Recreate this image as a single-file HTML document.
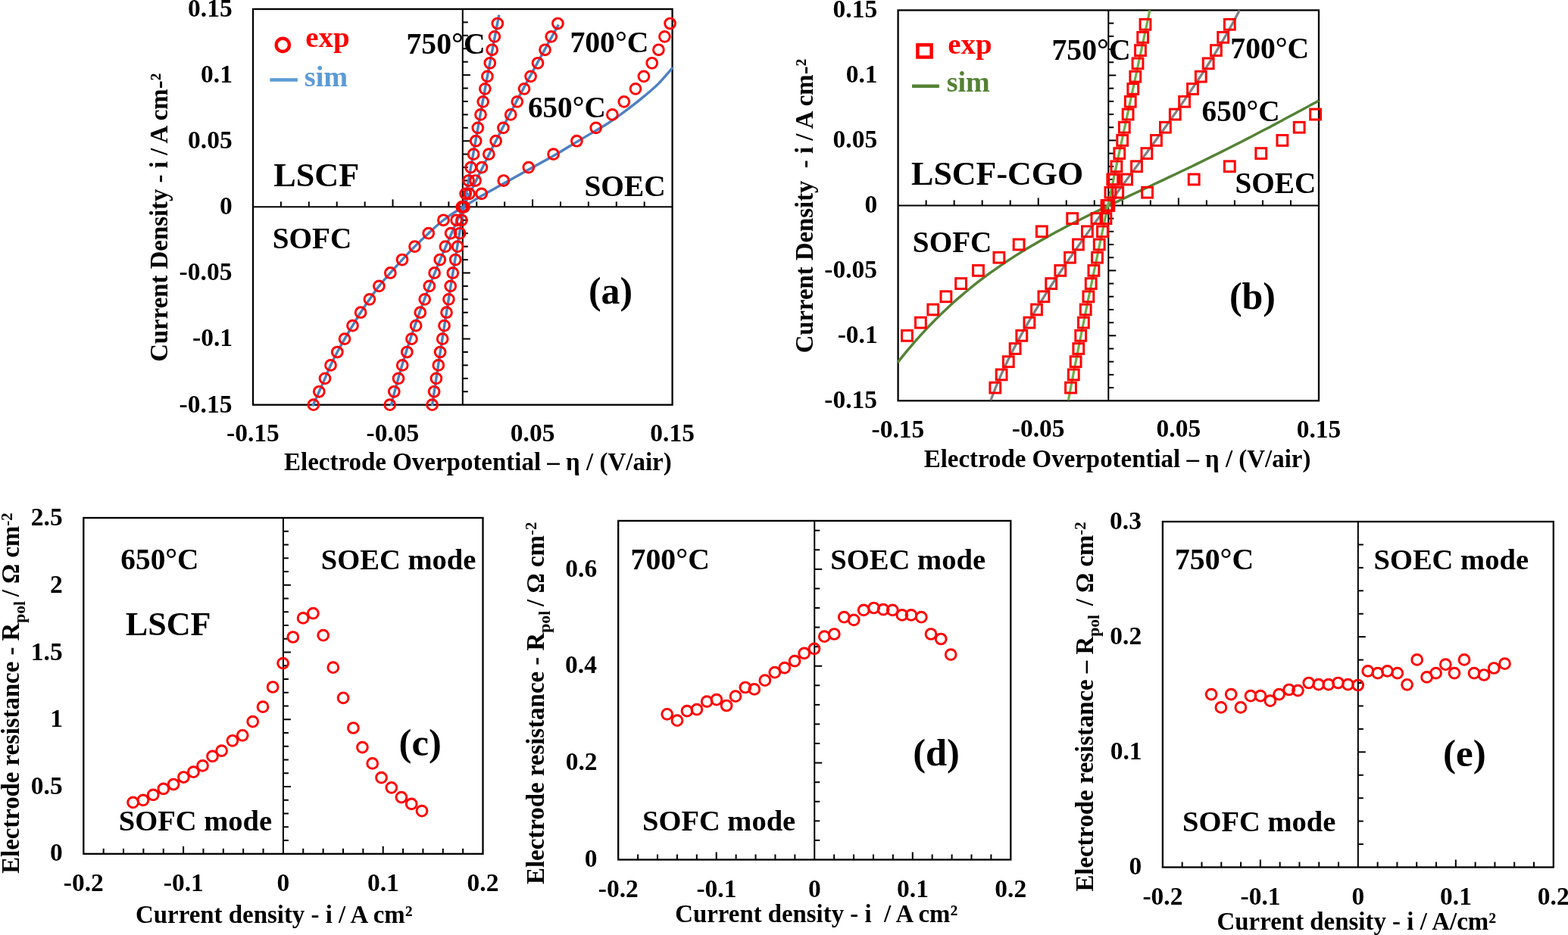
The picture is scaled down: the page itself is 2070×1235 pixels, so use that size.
<!DOCTYPE html>
<html><head><meta charset="utf-8"><title>Electrode polarization curves</title>
<style>html,body{margin:0;padding:0;background:#fff;} svg{display:block;} text{font-family:'Liberation Serif','Times New Roman',serif;font-weight:bold;}</style>
</head><body>
<svg width="2070" height="1235" viewBox="0 0 2070 1235">
<rect width="2070" height="1235" fill="#fff"/>
<rect x="334" y="12" width="553.6" height="522.7" fill="none" stroke="#000" stroke-width="2.3"/>
<line x1="334" y1="273.35" x2="887.6" y2="273.35" stroke="#000" stroke-width="2.0"/>
<line x1="610.8" y1="12" x2="610.8" y2="534.7" stroke="#000" stroke-width="2.0"/>
<line x1="370.91" y1="273.35" x2="370.91" y2="266.35" stroke="#000" stroke-width="2.0"/>
<line x1="407.81" y1="273.35" x2="407.81" y2="266.35" stroke="#000" stroke-width="2.0"/>
<line x1="444.72" y1="273.35" x2="444.72" y2="266.35" stroke="#000" stroke-width="2.0"/>
<line x1="481.63" y1="273.35" x2="481.63" y2="266.35" stroke="#000" stroke-width="2.0"/>
<line x1="518.53" y1="273.35" x2="518.53" y2="263.35" stroke="#000" stroke-width="2.0"/>
<line x1="555.44" y1="273.35" x2="555.44" y2="266.35" stroke="#000" stroke-width="2.0"/>
<line x1="592.35" y1="273.35" x2="592.35" y2="266.35" stroke="#000" stroke-width="2.0"/>
<line x1="629.25" y1="273.35" x2="629.25" y2="266.35" stroke="#000" stroke-width="2.0"/>
<line x1="666.16" y1="273.35" x2="666.16" y2="266.35" stroke="#000" stroke-width="2.0"/>
<line x1="703.07" y1="273.35" x2="703.07" y2="263.35" stroke="#000" stroke-width="2.0"/>
<line x1="739.97" y1="273.35" x2="739.97" y2="266.35" stroke="#000" stroke-width="2.0"/>
<line x1="776.88" y1="273.35" x2="776.88" y2="266.35" stroke="#000" stroke-width="2.0"/>
<line x1="813.79" y1="273.35" x2="813.79" y2="266.35" stroke="#000" stroke-width="2.0"/>
<line x1="850.69" y1="273.35" x2="850.69" y2="266.35" stroke="#000" stroke-width="2.0"/>
<line x1="610.8" y1="517.28" x2="617.8" y2="517.28" stroke="#000" stroke-width="2.0"/>
<line x1="610.8" y1="499.85" x2="617.8" y2="499.85" stroke="#000" stroke-width="2.0"/>
<line x1="610.8" y1="482.43" x2="617.8" y2="482.43" stroke="#000" stroke-width="2.0"/>
<line x1="610.8" y1="465.01" x2="617.8" y2="465.01" stroke="#000" stroke-width="2.0"/>
<line x1="610.8" y1="447.58" x2="620.8" y2="447.58" stroke="#000" stroke-width="2.0"/>
<line x1="610.8" y1="430.16" x2="617.8" y2="430.16" stroke="#000" stroke-width="2.0"/>
<line x1="610.8" y1="412.74" x2="617.8" y2="412.74" stroke="#000" stroke-width="2.0"/>
<line x1="610.8" y1="395.31" x2="617.8" y2="395.31" stroke="#000" stroke-width="2.0"/>
<line x1="610.8" y1="377.89" x2="617.8" y2="377.89" stroke="#000" stroke-width="2.0"/>
<line x1="610.8" y1="360.47" x2="620.8" y2="360.47" stroke="#000" stroke-width="2.0"/>
<line x1="610.8" y1="343.04" x2="617.8" y2="343.04" stroke="#000" stroke-width="2.0"/>
<line x1="610.8" y1="325.62" x2="617.8" y2="325.62" stroke="#000" stroke-width="2.0"/>
<line x1="610.8" y1="308.2" x2="617.8" y2="308.2" stroke="#000" stroke-width="2.0"/>
<line x1="610.8" y1="290.77" x2="617.8" y2="290.77" stroke="#000" stroke-width="2.0"/>
<line x1="610.8" y1="255.93" x2="617.8" y2="255.93" stroke="#000" stroke-width="2.0"/>
<line x1="610.8" y1="238.5" x2="617.8" y2="238.5" stroke="#000" stroke-width="2.0"/>
<line x1="610.8" y1="221.08" x2="617.8" y2="221.08" stroke="#000" stroke-width="2.0"/>
<line x1="610.8" y1="203.66" x2="617.8" y2="203.66" stroke="#000" stroke-width="2.0"/>
<line x1="610.8" y1="186.23" x2="620.8" y2="186.23" stroke="#000" stroke-width="2.0"/>
<line x1="610.8" y1="168.81" x2="617.8" y2="168.81" stroke="#000" stroke-width="2.0"/>
<line x1="610.8" y1="151.39" x2="617.8" y2="151.39" stroke="#000" stroke-width="2.0"/>
<line x1="610.8" y1="133.96" x2="617.8" y2="133.96" stroke="#000" stroke-width="2.0"/>
<line x1="610.8" y1="116.54" x2="617.8" y2="116.54" stroke="#000" stroke-width="2.0"/>
<line x1="610.8" y1="99.12" x2="620.8" y2="99.12" stroke="#000" stroke-width="2.0"/>
<line x1="610.8" y1="81.69" x2="617.8" y2="81.69" stroke="#000" stroke-width="2.0"/>
<line x1="610.8" y1="64.27" x2="617.8" y2="64.27" stroke="#000" stroke-width="2.0"/>
<line x1="610.8" y1="46.85" x2="617.8" y2="46.85" stroke="#000" stroke-width="2.0"/>
<line x1="610.8" y1="29.42" x2="617.8" y2="29.42" stroke="#000" stroke-width="2.0"/>
<path d="M570.53,535.8 C570.86,533.59 571.83,526.98 572.49,522.56 C573.15,518.15 573.81,513.74 574.47,509.33 C575.13,504.92 575.8,500.5 576.47,496.09 C577.13,491.68 577.8,487.27 578.48,482.86 C579.15,478.44 579.83,474.03 580.51,469.62 C581.19,465.21 581.87,460.8 582.55,456.38 C583.24,451.97 583.93,447.56 584.62,443.15 C585.31,438.74 586,434.32 586.69,429.91 C587.39,425.5 588.09,421.09 588.79,416.68 C589.49,412.26 590.2,407.85 590.9,403.44 C591.61,399.03 592.32,394.62 593.03,390.21 C593.74,385.79 594.46,381.38 595.17,376.97 C595.89,372.56 596.61,368.15 597.33,363.73 C598.06,359.32 598.78,354.91 599.51,350.5 C600.24,346.09 600.97,341.67 601.7,337.26 C602.43,332.85 603.17,328.44 603.91,324.03 C604.65,319.61 605.39,315.2 606.13,310.79 C606.87,306.38 607.62,301.97 608.37,297.55 C609.12,293.14 609.87,288.73 610.62,284.32 C611.38,279.91 612.13,275.49 612.89,271.08 C613.65,266.67 614.41,262.26 615.18,257.85 C615.94,253.43 616.71,249.02 617.48,244.61 C618.25,240.2 619.02,235.79 619.79,231.37 C620.57,226.96 621.34,222.55 622.12,218.14 C622.9,213.73 623.68,209.31 624.47,204.9 C625.25,200.49 626.04,196.08 626.82,191.67 C627.61,187.25 628.41,182.84 629.2,178.43 C629.99,174.02 630.79,169.61 631.59,165.19 C632.39,160.78 633.19,156.37 633.99,151.96 C634.79,147.55 635.6,143.14 636.41,138.72 C637.22,134.31 638.03,129.9 638.84,125.49 C639.65,121.08 640.47,116.66 641.29,112.25 C642.1,107.84 642.92,103.43 643.75,99.02 C644.57,94.6 645.39,90.19 646.22,85.78 C647.05,81.37 647.88,76.96 648.71,72.54 C649.54,68.13 650.37,63.72 651.21,59.31 C652.05,54.9 652.89,50.48 653.73,46.07 C654.57,41.66 655.41,37.25 656.26,32.84 C657.1,28.42 658.38,21.81 658.8,19.6" fill="none" stroke="#4E80C0" stroke-width="3.4" stroke-linecap="butt" stroke-linejoin="round"/>
<path d="M516.32,535.8 C516.85,533.65 518.44,527.2 519.54,522.9 C520.65,518.6 521.78,514.3 522.94,509.99 C524.1,505.69 525.3,501.39 526.52,497.09 C527.74,492.79 528.98,488.49 530.26,484.19 C531.53,479.89 532.84,475.59 534.16,471.29 C535.49,466.99 536.85,462.69 538.23,458.38 C539.61,454.08 541.02,449.78 542.46,445.48 C543.89,441.18 545.35,436.88 546.83,432.58 C548.32,428.28 549.83,423.98 551.36,419.68 C552.89,415.38 554.45,411.08 556.03,406.77 C557.61,402.47 559.22,398.17 560.85,393.87 C562.48,389.57 564.13,385.27 565.8,380.97 C567.47,376.67 569.17,372.37 570.88,368.07 C572.6,363.77 574.34,359.46 576.1,355.16 C577.86,350.86 579.64,346.56 581.44,342.26 C583.24,337.96 585.06,333.66 586.9,329.36 C588.74,325.06 590.61,320.76 592.49,316.46 C594.37,312.16 596.26,307.85 598.18,303.55 C600.1,299.25 602.04,294.95 603.99,290.65 C605.94,286.35 607.91,282.05 609.9,277.75 C611.89,273.45 613.9,269.15 615.92,264.85 C617.94,260.55 619.98,256.24 622.03,251.94 C624.09,247.64 626.16,243.34 628.25,239.04 C630.33,234.74 632.43,230.44 634.55,226.14 C636.66,221.84 638.79,217.54 640.94,213.24 C643.08,208.94 645.24,204.63 647.41,200.33 C649.58,196.03 651.77,191.73 653.96,187.43 C656.16,183.13 658.37,178.83 660.59,174.53 C662.81,170.23 665.05,165.93 667.29,161.63 C669.54,157.32 671.79,153.02 674.06,148.72 C676.33,144.42 678.61,140.12 680.89,135.82 C683.18,131.52 685.48,127.22 687.79,122.92 C690.09,118.62 692.41,114.32 694.74,110.02 C697.06,105.71 699.4,101.41 701.74,97.11 C704.08,92.81 706.43,88.51 708.79,84.21 C711.15,79.91 713.51,75.61 715.89,71.31 C718.26,67.01 720.64,62.71 723.02,58.41 C725.41,54.1 727.8,49.8 730.2,45.5 C732.6,41.2 736.21,34.75 737.41,32.6" fill="none" stroke="#4E80C0" stroke-width="3.4" stroke-linecap="butt" stroke-linejoin="round"/>
<path d="M412.6,536.5 C414.05,533.3 418.57,523.38 421.3,517.28 C424.03,511.17 426.47,505.66 429,499.85 C431.53,494.05 433.78,488.24 436.5,482.43 C439.22,476.62 442.22,470.81 445.3,465.01 C448.38,459.2 451.63,453.39 455,447.58 C458.37,441.78 461.98,435.97 465.5,430.16 C469.02,424.35 472.37,418.54 476.1,412.74 C479.83,406.93 483.85,401.12 487.9,395.31 C491.95,389.51 495.83,383.7 500.4,377.89 C504.97,372.08 510.2,366.27 515.3,360.47 C520.4,354.66 525.63,348.85 531,343.04 C536.37,337.24 541.72,331.43 547.5,325.62 C553.28,319.81 559.38,314 565.7,308.2 C572.02,302.39 577.85,296.57 585.4,290.77 C592.95,284.97 605.27,277.11 611,273.4 C616.73,269.69 615.7,270.93 619.8,268.5 C623.9,266.07 627.97,263.22 635.6,258.8 C643.23,254.38 655.15,247.85 665.6,242 C676.05,236.15 687.35,229.78 698.3,223.7 C709.25,217.62 720.83,211.52 731.3,205.5 C741.77,199.48 751.93,193.08 761.1,187.6 C770.27,182.12 779.82,176.45 786.3,172.6 C792.78,168.75 795.05,167.67 800,164.5 C804.95,161.33 810.53,157.48 816,153.6 C821.47,149.72 826.97,145.7 832.8,141.2 C838.63,136.7 844.93,131.7 851,126.6 C857.07,121.5 863,116.83 869.2,110.6 C875.4,104.37 885.03,92.77 888.2,89.2" fill="none" stroke="#4E80C0" stroke-width="3.4" stroke-linecap="butt" stroke-linejoin="round"/>
<circle cx="585.4" cy="290.77" r="6.9" fill="none" stroke="#FF0000" stroke-width="2.95"/>
<circle cx="565.7" cy="308.2" r="6.9" fill="none" stroke="#FF0000" stroke-width="2.95"/>
<circle cx="547.5" cy="325.62" r="6.9" fill="none" stroke="#FF0000" stroke-width="2.95"/>
<circle cx="531" cy="343.04" r="6.9" fill="none" stroke="#FF0000" stroke-width="2.95"/>
<circle cx="515.3" cy="360.47" r="6.9" fill="none" stroke="#FF0000" stroke-width="2.95"/>
<circle cx="500.4" cy="377.89" r="6.9" fill="none" stroke="#FF0000" stroke-width="2.95"/>
<circle cx="487.9" cy="395.31" r="6.9" fill="none" stroke="#FF0000" stroke-width="2.95"/>
<circle cx="476.1" cy="412.74" r="6.9" fill="none" stroke="#FF0000" stroke-width="2.95"/>
<circle cx="465.5" cy="430.16" r="6.9" fill="none" stroke="#FF0000" stroke-width="2.95"/>
<circle cx="455" cy="447.58" r="6.9" fill="none" stroke="#FF0000" stroke-width="2.95"/>
<circle cx="445.3" cy="465.01" r="6.9" fill="none" stroke="#FF0000" stroke-width="2.95"/>
<circle cx="436.5" cy="482.43" r="6.9" fill="none" stroke="#FF0000" stroke-width="2.95"/>
<circle cx="429" cy="499.85" r="6.9" fill="none" stroke="#FF0000" stroke-width="2.95"/>
<circle cx="421.3" cy="517.28" r="6.9" fill="none" stroke="#FF0000" stroke-width="2.95"/>
<circle cx="413.8" cy="534.7" r="6.9" fill="none" stroke="#FF0000" stroke-width="2.95"/>
<circle cx="609.6" cy="273.35" r="6.9" fill="none" stroke="#FF0000" stroke-width="2.95"/>
<circle cx="635.7" cy="255.93" r="6.9" fill="none" stroke="#FF0000" stroke-width="2.95"/>
<circle cx="664.8" cy="238.5" r="6.9" fill="none" stroke="#FF0000" stroke-width="2.95"/>
<circle cx="697.8" cy="221.08" r="6.9" fill="none" stroke="#FF0000" stroke-width="2.95"/>
<circle cx="730.6" cy="203.66" r="6.9" fill="none" stroke="#FF0000" stroke-width="2.95"/>
<circle cx="761.4" cy="186.23" r="6.9" fill="none" stroke="#FF0000" stroke-width="2.95"/>
<circle cx="786.7" cy="168.81" r="6.9" fill="none" stroke="#FF0000" stroke-width="2.95"/>
<circle cx="808.4" cy="151.39" r="6.9" fill="none" stroke="#FF0000" stroke-width="2.95"/>
<circle cx="823.8" cy="134.36" r="6.9" fill="none" stroke="#FF0000" stroke-width="2.95"/>
<circle cx="839" cy="117.34" r="6.9" fill="none" stroke="#FF0000" stroke-width="2.95"/>
<circle cx="849.9" cy="100.82" r="6.9" fill="none" stroke="#FF0000" stroke-width="2.95"/>
<circle cx="860.7" cy="83.29" r="6.9" fill="none" stroke="#FF0000" stroke-width="2.95"/>
<circle cx="869.4" cy="65.77" r="6.9" fill="none" stroke="#FF0000" stroke-width="2.95"/>
<circle cx="877.4" cy="48.35" r="6.9" fill="none" stroke="#FF0000" stroke-width="2.95"/>
<circle cx="884.6" cy="31.02" r="6.9" fill="none" stroke="#FF0000" stroke-width="2.95"/>
<circle cx="602.6" cy="290.77" r="6.9" fill="none" stroke="#FF0000" stroke-width="2.95"/>
<circle cx="595.1" cy="308.2" r="6.9" fill="none" stroke="#FF0000" stroke-width="2.95"/>
<circle cx="587.9" cy="325.62" r="6.9" fill="none" stroke="#FF0000" stroke-width="2.95"/>
<circle cx="580.8" cy="343.04" r="6.9" fill="none" stroke="#FF0000" stroke-width="2.95"/>
<circle cx="573.6" cy="360.47" r="6.9" fill="none" stroke="#FF0000" stroke-width="2.95"/>
<circle cx="566.8" cy="377.89" r="6.9" fill="none" stroke="#FF0000" stroke-width="2.95"/>
<circle cx="560.7" cy="395.31" r="6.9" fill="none" stroke="#FF0000" stroke-width="2.95"/>
<circle cx="554.8" cy="412.74" r="6.9" fill="none" stroke="#FF0000" stroke-width="2.95"/>
<circle cx="549.1" cy="430.16" r="6.9" fill="none" stroke="#FF0000" stroke-width="2.95"/>
<circle cx="543.4" cy="447.58" r="6.9" fill="none" stroke="#FF0000" stroke-width="2.95"/>
<circle cx="537.3" cy="465.01" r="6.9" fill="none" stroke="#FF0000" stroke-width="2.95"/>
<circle cx="531.2" cy="482.43" r="6.9" fill="none" stroke="#FF0000" stroke-width="2.95"/>
<circle cx="526" cy="499.85" r="6.9" fill="none" stroke="#FF0000" stroke-width="2.95"/>
<circle cx="520.3" cy="517.28" r="6.9" fill="none" stroke="#FF0000" stroke-width="2.95"/>
<circle cx="514.7" cy="534.7" r="6.9" fill="none" stroke="#FF0000" stroke-width="2.95"/>
<circle cx="611.2" cy="273.35" r="6.9" fill="none" stroke="#FF0000" stroke-width="2.95"/>
<circle cx="619.5" cy="255.93" r="6.9" fill="none" stroke="#FF0000" stroke-width="2.95"/>
<circle cx="627.6" cy="238.5" r="6.9" fill="none" stroke="#FF0000" stroke-width="2.95"/>
<circle cx="636" cy="221.08" r="6.9" fill="none" stroke="#FF0000" stroke-width="2.95"/>
<circle cx="645.3" cy="203.66" r="6.9" fill="none" stroke="#FF0000" stroke-width="2.95"/>
<circle cx="654.6" cy="186.23" r="6.9" fill="none" stroke="#FF0000" stroke-width="2.95"/>
<circle cx="664.4" cy="168.81" r="6.9" fill="none" stroke="#FF0000" stroke-width="2.95"/>
<circle cx="674.2" cy="151.39" r="6.9" fill="none" stroke="#FF0000" stroke-width="2.95"/>
<circle cx="682.8" cy="134.36" r="6.9" fill="none" stroke="#FF0000" stroke-width="2.95"/>
<circle cx="692" cy="117.34" r="6.9" fill="none" stroke="#FF0000" stroke-width="2.95"/>
<circle cx="700.6" cy="100.82" r="6.9" fill="none" stroke="#FF0000" stroke-width="2.95"/>
<circle cx="710" cy="83.29" r="6.9" fill="none" stroke="#FF0000" stroke-width="2.95"/>
<circle cx="719.5" cy="65.77" r="6.9" fill="none" stroke="#FF0000" stroke-width="2.95"/>
<circle cx="727.7" cy="48.35" r="6.9" fill="none" stroke="#FF0000" stroke-width="2.95"/>
<circle cx="736.4" cy="31.02" r="6.9" fill="none" stroke="#FF0000" stroke-width="2.95"/>
<circle cx="609.4" cy="290.77" r="6.9" fill="none" stroke="#FF0000" stroke-width="2.95"/>
<circle cx="607.1" cy="308.2" r="6.9" fill="none" stroke="#FF0000" stroke-width="2.95"/>
<circle cx="604.2" cy="325.62" r="6.9" fill="none" stroke="#FF0000" stroke-width="2.95"/>
<circle cx="601.2" cy="343.04" r="6.9" fill="none" stroke="#FF0000" stroke-width="2.95"/>
<circle cx="597.8" cy="360.47" r="6.9" fill="none" stroke="#FF0000" stroke-width="2.95"/>
<circle cx="594.7" cy="377.89" r="6.9" fill="none" stroke="#FF0000" stroke-width="2.95"/>
<circle cx="592.4" cy="395.31" r="6.9" fill="none" stroke="#FF0000" stroke-width="2.95"/>
<circle cx="589.5" cy="412.74" r="6.9" fill="none" stroke="#FF0000" stroke-width="2.95"/>
<circle cx="586.5" cy="430.16" r="6.9" fill="none" stroke="#FF0000" stroke-width="2.95"/>
<circle cx="584.2" cy="447.58" r="6.9" fill="none" stroke="#FF0000" stroke-width="2.95"/>
<circle cx="581.1" cy="465.01" r="6.9" fill="none" stroke="#FF0000" stroke-width="2.95"/>
<circle cx="578.8" cy="482.43" r="6.9" fill="none" stroke="#FF0000" stroke-width="2.95"/>
<circle cx="575.9" cy="499.85" r="6.9" fill="none" stroke="#FF0000" stroke-width="2.95"/>
<circle cx="573.1" cy="517.28" r="6.9" fill="none" stroke="#FF0000" stroke-width="2.95"/>
<circle cx="570.6" cy="534.7" r="6.9" fill="none" stroke="#FF0000" stroke-width="2.95"/>
<circle cx="612.6" cy="273.35" r="6.9" fill="none" stroke="#FF0000" stroke-width="2.95"/>
<circle cx="614.6" cy="255.93" r="6.9" fill="none" stroke="#FF0000" stroke-width="2.95"/>
<circle cx="618.6" cy="238.5" r="6.9" fill="none" stroke="#FF0000" stroke-width="2.95"/>
<circle cx="621.5" cy="221.08" r="6.9" fill="none" stroke="#FF0000" stroke-width="2.95"/>
<circle cx="625.1" cy="203.66" r="6.9" fill="none" stroke="#FF0000" stroke-width="2.95"/>
<circle cx="628.2" cy="186.23" r="6.9" fill="none" stroke="#FF0000" stroke-width="2.95"/>
<circle cx="630.8" cy="168.81" r="6.9" fill="none" stroke="#FF0000" stroke-width="2.95"/>
<circle cx="634.5" cy="151.39" r="6.9" fill="none" stroke="#FF0000" stroke-width="2.95"/>
<circle cx="637.7" cy="134.36" r="6.9" fill="none" stroke="#FF0000" stroke-width="2.95"/>
<circle cx="640.3" cy="117.34" r="6.9" fill="none" stroke="#FF0000" stroke-width="2.95"/>
<circle cx="643.4" cy="100.82" r="6.9" fill="none" stroke="#FF0000" stroke-width="2.95"/>
<circle cx="646.8" cy="83.29" r="6.9" fill="none" stroke="#FF0000" stroke-width="2.95"/>
<circle cx="649.7" cy="65.77" r="6.9" fill="none" stroke="#FF0000" stroke-width="2.95"/>
<circle cx="652.9" cy="48.35" r="6.9" fill="none" stroke="#FF0000" stroke-width="2.95"/>
<circle cx="656.8" cy="31.02" r="6.9" fill="none" stroke="#FF0000" stroke-width="2.95"/>
<circle cx="373.3" cy="59.4" r="8.6" fill="none" stroke="#FF0000" stroke-width="4.4"/>
<line x1="356.4" y1="105.5" x2="392.9" y2="105.5" stroke="#5B9BD5" stroke-width="4.4"/>
<rect x="1185.6" y="13.5" width="555.4" height="515.8" fill="none" stroke="#000" stroke-width="2.3"/>
<line x1="1185.6" y1="271.4" x2="1741" y2="271.4" stroke="#000" stroke-width="2.0"/>
<line x1="1463.3" y1="13.5" x2="1463.3" y2="529.3" stroke="#000" stroke-width="2.0"/>
<line x1="1222.63" y1="271.4" x2="1222.63" y2="264.4" stroke="#000" stroke-width="2.0"/>
<line x1="1259.65" y1="271.4" x2="1259.65" y2="264.4" stroke="#000" stroke-width="2.0"/>
<line x1="1296.68" y1="271.4" x2="1296.68" y2="264.4" stroke="#000" stroke-width="2.0"/>
<line x1="1333.71" y1="271.4" x2="1333.71" y2="264.4" stroke="#000" stroke-width="2.0"/>
<line x1="1370.73" y1="271.4" x2="1370.73" y2="261.4" stroke="#000" stroke-width="2.0"/>
<line x1="1407.76" y1="271.4" x2="1407.76" y2="264.4" stroke="#000" stroke-width="2.0"/>
<line x1="1444.79" y1="271.4" x2="1444.79" y2="264.4" stroke="#000" stroke-width="2.0"/>
<line x1="1481.81" y1="271.4" x2="1481.81" y2="264.4" stroke="#000" stroke-width="2.0"/>
<line x1="1518.84" y1="271.4" x2="1518.84" y2="264.4" stroke="#000" stroke-width="2.0"/>
<line x1="1555.87" y1="271.4" x2="1555.87" y2="261.4" stroke="#000" stroke-width="2.0"/>
<line x1="1592.89" y1="271.4" x2="1592.89" y2="264.4" stroke="#000" stroke-width="2.0"/>
<line x1="1629.92" y1="271.4" x2="1629.92" y2="264.4" stroke="#000" stroke-width="2.0"/>
<line x1="1666.95" y1="271.4" x2="1666.95" y2="264.4" stroke="#000" stroke-width="2.0"/>
<line x1="1703.97" y1="271.4" x2="1703.97" y2="264.4" stroke="#000" stroke-width="2.0"/>
<line x1="1463.3" y1="512.11" x2="1470.3" y2="512.11" stroke="#000" stroke-width="2.0"/>
<line x1="1463.3" y1="494.91" x2="1470.3" y2="494.91" stroke="#000" stroke-width="2.0"/>
<line x1="1463.3" y1="477.72" x2="1470.3" y2="477.72" stroke="#000" stroke-width="2.0"/>
<line x1="1463.3" y1="460.53" x2="1470.3" y2="460.53" stroke="#000" stroke-width="2.0"/>
<line x1="1463.3" y1="443.33" x2="1473.3" y2="443.33" stroke="#000" stroke-width="2.0"/>
<line x1="1463.3" y1="426.14" x2="1470.3" y2="426.14" stroke="#000" stroke-width="2.0"/>
<line x1="1463.3" y1="408.95" x2="1470.3" y2="408.95" stroke="#000" stroke-width="2.0"/>
<line x1="1463.3" y1="391.75" x2="1470.3" y2="391.75" stroke="#000" stroke-width="2.0"/>
<line x1="1463.3" y1="374.56" x2="1470.3" y2="374.56" stroke="#000" stroke-width="2.0"/>
<line x1="1463.3" y1="357.37" x2="1473.3" y2="357.37" stroke="#000" stroke-width="2.0"/>
<line x1="1463.3" y1="340.17" x2="1470.3" y2="340.17" stroke="#000" stroke-width="2.0"/>
<line x1="1463.3" y1="322.98" x2="1470.3" y2="322.98" stroke="#000" stroke-width="2.0"/>
<line x1="1463.3" y1="305.79" x2="1470.3" y2="305.79" stroke="#000" stroke-width="2.0"/>
<line x1="1463.3" y1="288.59" x2="1470.3" y2="288.59" stroke="#000" stroke-width="2.0"/>
<line x1="1463.3" y1="254.21" x2="1470.3" y2="254.21" stroke="#000" stroke-width="2.0"/>
<line x1="1463.3" y1="237.01" x2="1470.3" y2="237.01" stroke="#000" stroke-width="2.0"/>
<line x1="1463.3" y1="219.82" x2="1470.3" y2="219.82" stroke="#000" stroke-width="2.0"/>
<line x1="1463.3" y1="202.63" x2="1470.3" y2="202.63" stroke="#000" stroke-width="2.0"/>
<line x1="1463.3" y1="185.43" x2="1473.3" y2="185.43" stroke="#000" stroke-width="2.0"/>
<line x1="1463.3" y1="168.24" x2="1470.3" y2="168.24" stroke="#000" stroke-width="2.0"/>
<line x1="1463.3" y1="151.05" x2="1470.3" y2="151.05" stroke="#000" stroke-width="2.0"/>
<line x1="1463.3" y1="133.85" x2="1470.3" y2="133.85" stroke="#000" stroke-width="2.0"/>
<line x1="1463.3" y1="116.66" x2="1470.3" y2="116.66" stroke="#000" stroke-width="2.0"/>
<line x1="1463.3" y1="99.47" x2="1473.3" y2="99.47" stroke="#000" stroke-width="2.0"/>
<line x1="1463.3" y1="82.27" x2="1470.3" y2="82.27" stroke="#000" stroke-width="2.0"/>
<line x1="1463.3" y1="65.08" x2="1470.3" y2="65.08" stroke="#000" stroke-width="2.0"/>
<line x1="1463.3" y1="47.89" x2="1470.3" y2="47.89" stroke="#000" stroke-width="2.0"/>
<line x1="1463.3" y1="30.69" x2="1470.3" y2="30.69" stroke="#000" stroke-width="2.0"/>
<path d="M1307.92,528.8 C1308.76,526.6 1311.21,519.99 1312.95,515.59 C1314.7,511.18 1316.53,506.78 1318.42,502.37 C1320.31,497.97 1322.27,493.57 1324.3,489.16 C1326.32,484.76 1328.41,480.35 1330.56,475.95 C1332.72,471.54 1334.93,467.14 1337.2,462.74 C1339.48,458.33 1341.81,453.93 1344.2,449.52 C1346.58,445.12 1349.02,440.71 1351.52,436.31 C1354.01,431.91 1356.55,427.5 1359.14,423.1 C1361.74,418.69 1364.38,414.29 1367.06,409.88 C1369.75,405.48 1372.48,401.08 1375.25,396.67 C1378.02,392.27 1380.83,387.86 1383.68,383.46 C1386.53,379.05 1389.42,374.65 1392.34,370.25 C1395.26,365.84 1398.22,361.44 1401.21,357.03 C1404.2,352.63 1407.22,348.22 1410.26,343.82 C1413.31,339.42 1416.38,335.01 1419.48,330.61 C1422.57,326.2 1425.7,321.8 1428.84,317.39 C1431.98,312.99 1435.14,308.59 1438.32,304.18 C1441.5,299.78 1444.7,295.37 1447.91,290.97 C1451.12,286.56 1454.34,282.16 1457.58,277.76 C1460.81,273.35 1464.06,268.95 1467.31,264.54 C1470.56,260.14 1473.82,255.74 1477.08,251.33 C1480.34,246.93 1483.61,242.52 1486.87,238.12 C1490.14,233.71 1493.41,229.31 1496.67,224.91 C1499.93,220.5 1503.19,216.1 1506.44,211.69 C1509.69,207.29 1512.93,202.88 1516.17,198.48 C1519.4,194.08 1522.63,189.67 1525.83,185.27 C1529.04,180.86 1532.24,176.46 1535.42,172.05 C1538.6,167.65 1541.76,163.25 1544.9,158.84 C1548.04,154.44 1551.16,150.03 1554.26,145.63 C1557.35,141.22 1560.43,136.82 1563.47,132.42 C1566.51,128.01 1569.53,123.61 1572.52,119.2 C1575.5,114.8 1578.46,110.39 1581.38,105.99 C1584.3,101.59 1587.19,97.18 1590.03,92.78 C1592.88,88.37 1595.69,83.97 1598.46,79.56 C1601.23,75.16 1603.96,70.76 1606.64,66.35 C1609.32,61.95 1611.96,57.54 1614.55,53.14 C1617.14,48.73 1619.68,44.33 1622.17,39.93 C1624.66,35.52 1627.1,31.12 1629.48,26.71 C1631.87,22.31 1635.3,15.7 1636.47,13.5" fill="none" stroke="#808080" stroke-width="3.2" stroke-linecap="butt" stroke-linejoin="round"/>
<path d="M1185,478.84 C1186.57,476.88 1191.28,470.91 1194.42,467.08 C1197.56,463.25 1200.71,459.5 1203.85,455.84 C1206.99,452.18 1210.13,448.6 1213.27,445.1 C1216.41,441.6 1219.55,438.19 1222.69,434.84 C1225.84,431.49 1228.98,428.23 1232.12,425.03 C1235.26,421.83 1238.4,418.71 1241.54,415.65 C1244.68,412.59 1247.82,409.61 1250.97,406.68 C1254.11,403.75 1257.25,400.89 1260.39,398.09 C1263.53,395.29 1266.67,392.56 1269.81,389.87 C1272.95,387.19 1276.1,384.57 1279.24,382 C1282.38,379.42 1285.52,376.91 1288.66,374.44 C1291.8,371.97 1294.94,369.56 1298.08,367.19 C1301.23,364.82 1304.37,362.51 1307.51,360.23 C1310.65,357.95 1313.79,355.72 1316.93,353.53 C1320.07,351.34 1323.21,349.2 1326.36,347.08 C1329.5,344.97 1332.64,342.9 1335.78,340.87 C1338.92,338.83 1342.06,336.83 1345.2,334.87 C1348.34,332.9 1351.49,330.97 1354.63,329.06 C1357.77,327.16 1360.91,325.29 1364.05,323.44 C1367.19,321.59 1370.33,319.78 1373.47,317.99 C1376.62,316.19 1379.76,314.43 1382.9,312.68 C1386.04,310.94 1389.18,309.22 1392.32,307.52 C1395.46,305.82 1398.6,304.14 1401.75,302.48 C1404.89,300.82 1408.03,299.18 1411.17,297.55 C1414.31,295.92 1417.45,294.32 1420.59,292.72 C1423.73,291.12 1426.88,289.54 1430.02,287.98 C1433.16,286.41 1436.3,284.85 1439.44,283.31 C1442.58,281.76 1445.72,280.23 1448.86,278.7 C1452.01,277.18 1455.15,275.66 1458.29,274.15 C1461.43,272.64 1464.57,271.14 1467.71,269.65 C1470.85,268.15 1473.99,266.66 1477.14,265.17 C1480.28,263.69 1483.42,262.21 1486.56,260.73 C1489.7,259.25 1492.84,257.77 1495.98,256.3 C1499.12,254.82 1502.27,253.35 1505.41,251.88 C1508.55,250.41 1511.69,248.94 1514.83,247.46 C1517.97,245.99 1521.11,244.52 1524.25,243.04 C1527.4,241.57 1530.54,240.09 1533.68,238.61 C1536.82,237.13 1539.96,235.65 1543.1,234.16 C1546.24,232.68 1549.38,231.19 1552.53,229.69 C1555.67,228.2 1558.81,226.7 1561.95,225.2 C1565.09,223.7 1568.23,222.19 1571.37,220.68 C1574.51,219.16 1577.66,217.65 1580.8,216.12 C1583.94,214.6 1587.08,213.07 1590.22,211.53 C1593.36,209.99 1596.5,208.45 1599.64,206.9 C1602.79,205.35 1605.93,203.79 1609.07,202.23 C1612.21,200.66 1615.35,199.09 1618.49,197.52 C1621.63,195.94 1624.77,194.35 1627.92,192.76 C1631.06,191.17 1634.2,189.57 1637.34,187.97 C1640.48,186.36 1643.62,184.75 1646.76,183.13 C1649.9,181.51 1653.05,179.88 1656.19,178.25 C1659.33,176.62 1662.47,174.98 1665.61,173.33 C1668.75,171.69 1671.89,170.04 1675.03,168.38 C1678.18,166.72 1681.32,165.06 1684.46,163.39 C1687.6,161.72 1690.74,160.04 1693.88,158.36 C1697.02,156.69 1700.16,155 1703.31,153.31 C1706.45,151.63 1709.59,149.93 1712.73,148.24 C1715.87,146.54 1719.01,144.84 1722.15,143.14 C1725.29,141.44 1728.44,139.74 1731.58,138.03 C1734.72,136.33 1739.43,133.77 1741,132.91" fill="none" stroke="#548235" stroke-width="3.4" stroke-linecap="butt" stroke-linejoin="round"/>
<path d="M1410.37,528.8 C1410.79,526.6 1412.04,519.99 1412.87,515.59 C1413.71,511.18 1414.56,506.78 1415.4,502.37 C1416.25,497.97 1417.1,493.57 1417.95,489.16 C1418.81,484.76 1419.67,480.35 1420.53,475.95 C1421.39,471.54 1422.26,467.14 1423.13,462.74 C1423.99,458.33 1424.87,453.93 1425.74,449.52 C1426.62,445.12 1427.5,440.71 1428.38,436.31 C1429.26,431.91 1430.15,427.5 1431.03,423.1 C1431.92,418.69 1432.81,414.29 1433.71,409.88 C1434.6,405.48 1435.5,401.08 1436.4,396.67 C1437.3,392.27 1438.2,387.86 1439.11,383.46 C1440.01,379.05 1440.92,374.65 1441.83,370.25 C1442.74,365.84 1443.65,361.44 1444.57,357.03 C1445.48,352.63 1446.4,348.22 1447.32,343.82 C1448.24,339.42 1449.16,335.01 1450.08,330.61 C1451.01,326.2 1451.93,321.8 1452.86,317.39 C1453.79,312.99 1454.72,308.59 1455.65,304.18 C1456.58,299.78 1457.51,295.37 1458.44,290.97 C1459.38,286.56 1460.31,282.16 1461.25,277.76 C1462.19,273.35 1463.12,268.95 1464.06,264.54 C1465,260.14 1465.94,255.74 1466.89,251.33 C1467.83,246.93 1468.77,242.52 1469.71,238.12 C1470.66,233.71 1471.6,229.31 1472.55,224.91 C1473.49,220.5 1474.44,216.1 1475.39,211.69 C1476.33,207.29 1477.28,202.88 1478.23,198.48 C1479.18,194.08 1480.12,189.67 1481.07,185.27 C1482.02,180.86 1482.97,176.46 1483.92,172.05 C1484.87,167.65 1485.82,163.25 1486.77,158.84 C1487.72,154.44 1488.67,150.03 1489.62,145.63 C1490.57,141.22 1491.52,136.82 1492.47,132.42 C1493.41,128.01 1494.36,123.61 1495.31,119.2 C1496.26,114.8 1497.21,110.39 1498.16,105.99 C1499.1,101.59 1500.05,97.18 1501,92.78 C1501.94,88.37 1502.89,83.97 1503.83,79.56 C1504.78,75.16 1505.72,70.76 1506.66,66.35 C1507.61,61.95 1508.55,57.54 1509.49,53.14 C1510.43,48.73 1511.37,44.33 1512.31,39.93 C1513.25,35.52 1514.18,31.12 1515.12,26.71 C1516.05,22.31 1517.45,15.7 1517.92,13.5" fill="none" stroke="#70AD47" stroke-width="3.2" stroke-linecap="butt" stroke-linejoin="round"/>
<rect x="1408.8" y="281.69" width="13.8" height="13.8" fill="none" stroke="#FF0000" stroke-width="3.0"/>
<rect x="1368.4" y="298.89" width="13.8" height="13.8" fill="none" stroke="#FF0000" stroke-width="3.0"/>
<rect x="1338.2" y="316.08" width="13.8" height="13.8" fill="none" stroke="#FF0000" stroke-width="3.0"/>
<rect x="1312" y="333.27" width="13.8" height="13.8" fill="none" stroke="#FF0000" stroke-width="3.0"/>
<rect x="1284.6" y="350.47" width="13.8" height="13.8" fill="none" stroke="#FF0000" stroke-width="3.0"/>
<rect x="1261.7" y="367.66" width="13.8" height="13.8" fill="none" stroke="#FF0000" stroke-width="3.0"/>
<rect x="1242" y="384.85" width="13.8" height="13.8" fill="none" stroke="#FF0000" stroke-width="3.0"/>
<rect x="1224.9" y="402.05" width="13.8" height="13.8" fill="none" stroke="#FF0000" stroke-width="3.0"/>
<rect x="1208.5" y="419.24" width="13.8" height="13.8" fill="none" stroke="#FF0000" stroke-width="3.0"/>
<rect x="1190.6" y="436.43" width="13.8" height="13.8" fill="none" stroke="#FF0000" stroke-width="3.0"/>
<rect x="1507.7" y="247.31" width="13.8" height="13.8" fill="none" stroke="#FF0000" stroke-width="3.0"/>
<rect x="1569.3" y="230.11" width="13.8" height="13.8" fill="none" stroke="#FF0000" stroke-width="3.0"/>
<rect x="1616.4" y="212.92" width="13.8" height="13.8" fill="none" stroke="#FF0000" stroke-width="3.0"/>
<rect x="1657.9" y="195.73" width="13.8" height="13.8" fill="none" stroke="#FF0000" stroke-width="3.0"/>
<rect x="1686" y="178.53" width="13.8" height="13.8" fill="none" stroke="#FF0000" stroke-width="3.0"/>
<rect x="1708.3" y="161.34" width="13.8" height="13.8" fill="none" stroke="#FF0000" stroke-width="3.0"/>
<rect x="1729.7" y="144.15" width="13.8" height="13.8" fill="none" stroke="#FF0000" stroke-width="3.0"/>
<rect x="1454.1" y="264.5" width="13.8" height="13.8" fill="none" stroke="#FF0000" stroke-width="3.0"/>
<rect x="1461.9" y="230.11" width="13.8" height="13.8" fill="none" stroke="#FF0000" stroke-width="3.0"/>
<rect x="1441" y="281.69" width="13.8" height="13.8" fill="none" stroke="#FF0000" stroke-width="3.0"/>
<rect x="1428.5" y="298.89" width="13.8" height="13.8" fill="none" stroke="#FF0000" stroke-width="3.0"/>
<rect x="1416.5" y="316.08" width="13.8" height="13.8" fill="none" stroke="#FF0000" stroke-width="3.0"/>
<rect x="1405.6" y="333.27" width="13.8" height="13.8" fill="none" stroke="#FF0000" stroke-width="3.0"/>
<rect x="1392.9" y="350.47" width="13.8" height="13.8" fill="none" stroke="#FF0000" stroke-width="3.0"/>
<rect x="1380.8" y="367.66" width="13.8" height="13.8" fill="none" stroke="#FF0000" stroke-width="3.0"/>
<rect x="1371" y="384.85" width="13.8" height="13.8" fill="none" stroke="#FF0000" stroke-width="3.0"/>
<rect x="1361.6" y="402.05" width="13.8" height="13.8" fill="none" stroke="#FF0000" stroke-width="3.0"/>
<rect x="1352" y="419.24" width="13.8" height="13.8" fill="none" stroke="#FF0000" stroke-width="3.0"/>
<rect x="1341.9" y="436.43" width="13.8" height="13.8" fill="none" stroke="#FF0000" stroke-width="3.0"/>
<rect x="1333.2" y="453.63" width="13.8" height="13.8" fill="none" stroke="#FF0000" stroke-width="3.0"/>
<rect x="1324.4" y="470.82" width="13.8" height="13.8" fill="none" stroke="#FF0000" stroke-width="3.0"/>
<rect x="1315.2" y="488.01" width="13.8" height="13.8" fill="none" stroke="#FF0000" stroke-width="3.0"/>
<rect x="1306.9" y="505.21" width="13.8" height="13.8" fill="none" stroke="#FF0000" stroke-width="3.0"/>
<rect x="1455.5" y="264.5" width="13.8" height="13.8" fill="none" stroke="#FF0000" stroke-width="3.0"/>
<rect x="1468.8" y="247.31" width="13.8" height="13.8" fill="none" stroke="#FF0000" stroke-width="3.0"/>
<rect x="1480.7" y="230.11" width="13.8" height="13.8" fill="none" stroke="#FF0000" stroke-width="3.0"/>
<rect x="1493.6" y="212.92" width="13.8" height="13.8" fill="none" stroke="#FF0000" stroke-width="3.0"/>
<rect x="1507" y="195.73" width="13.8" height="13.8" fill="none" stroke="#FF0000" stroke-width="3.0"/>
<rect x="1519.6" y="178.53" width="13.8" height="13.8" fill="none" stroke="#FF0000" stroke-width="3.0"/>
<rect x="1531.5" y="161.34" width="13.8" height="13.8" fill="none" stroke="#FF0000" stroke-width="3.0"/>
<rect x="1544.4" y="144.15" width="13.8" height="13.8" fill="none" stroke="#FF0000" stroke-width="3.0"/>
<rect x="1556.7" y="127.35" width="13.8" height="13.8" fill="none" stroke="#FF0000" stroke-width="3.0"/>
<rect x="1567.6" y="110.56" width="13.8" height="13.8" fill="none" stroke="#FF0000" stroke-width="3.0"/>
<rect x="1578.4" y="94.27" width="13.8" height="13.8" fill="none" stroke="#FF0000" stroke-width="3.0"/>
<rect x="1588.3" y="76.97" width="13.8" height="13.8" fill="none" stroke="#FF0000" stroke-width="3.0"/>
<rect x="1598.5" y="59.68" width="13.8" height="13.8" fill="none" stroke="#FF0000" stroke-width="3.0"/>
<rect x="1607.8" y="42.49" width="13.8" height="13.8" fill="none" stroke="#FF0000" stroke-width="3.0"/>
<rect x="1616.4" y="25.39" width="13.8" height="13.8" fill="none" stroke="#FF0000" stroke-width="3.0"/>
<rect x="1453" y="281.69" width="13.8" height="13.8" fill="none" stroke="#FF0000" stroke-width="3.0"/>
<rect x="1448.6" y="298.89" width="13.8" height="13.8" fill="none" stroke="#FF0000" stroke-width="3.0"/>
<rect x="1444.3" y="316.08" width="13.8" height="13.8" fill="none" stroke="#FF0000" stroke-width="3.0"/>
<rect x="1441.6" y="333.27" width="13.8" height="13.8" fill="none" stroke="#FF0000" stroke-width="3.0"/>
<rect x="1437" y="350.47" width="13.8" height="13.8" fill="none" stroke="#FF0000" stroke-width="3.0"/>
<rect x="1433.3" y="367.66" width="13.8" height="13.8" fill="none" stroke="#FF0000" stroke-width="3.0"/>
<rect x="1430" y="384.85" width="13.8" height="13.8" fill="none" stroke="#FF0000" stroke-width="3.0"/>
<rect x="1426.3" y="402.05" width="13.8" height="13.8" fill="none" stroke="#FF0000" stroke-width="3.0"/>
<rect x="1423.5" y="419.24" width="13.8" height="13.8" fill="none" stroke="#FF0000" stroke-width="3.0"/>
<rect x="1419.8" y="436.43" width="13.8" height="13.8" fill="none" stroke="#FF0000" stroke-width="3.0"/>
<rect x="1416.9" y="453.63" width="13.8" height="13.8" fill="none" stroke="#FF0000" stroke-width="3.0"/>
<rect x="1413.2" y="470.82" width="13.8" height="13.8" fill="none" stroke="#FF0000" stroke-width="3.0"/>
<rect x="1410.4" y="488.01" width="13.8" height="13.8" fill="none" stroke="#FF0000" stroke-width="3.0"/>
<rect x="1406.6" y="505.21" width="13.8" height="13.8" fill="none" stroke="#FF0000" stroke-width="3.0"/>
<rect x="1456.9" y="264.5" width="13.8" height="13.8" fill="none" stroke="#FF0000" stroke-width="3.0"/>
<rect x="1459" y="247.31" width="13.8" height="13.8" fill="none" stroke="#FF0000" stroke-width="3.0"/>
<rect x="1463.8" y="230.11" width="13.8" height="13.8" fill="none" stroke="#FF0000" stroke-width="3.0"/>
<rect x="1467" y="212.92" width="13.8" height="13.8" fill="none" stroke="#FF0000" stroke-width="3.0"/>
<rect x="1470.9" y="195.73" width="13.8" height="13.8" fill="none" stroke="#FF0000" stroke-width="3.0"/>
<rect x="1474.8" y="178.53" width="13.8" height="13.8" fill="none" stroke="#FF0000" stroke-width="3.0"/>
<rect x="1477.4" y="161.34" width="13.8" height="13.8" fill="none" stroke="#FF0000" stroke-width="3.0"/>
<rect x="1482.2" y="144.15" width="13.8" height="13.8" fill="none" stroke="#FF0000" stroke-width="3.0"/>
<rect x="1485.4" y="127.35" width="13.8" height="13.8" fill="none" stroke="#FF0000" stroke-width="3.0"/>
<rect x="1488.9" y="110.56" width="13.8" height="13.8" fill="none" stroke="#FF0000" stroke-width="3.0"/>
<rect x="1491.9" y="94.27" width="13.8" height="13.8" fill="none" stroke="#FF0000" stroke-width="3.0"/>
<rect x="1495.1" y="76.97" width="13.8" height="13.8" fill="none" stroke="#FF0000" stroke-width="3.0"/>
<rect x="1498.6" y="59.68" width="13.8" height="13.8" fill="none" stroke="#FF0000" stroke-width="3.0"/>
<rect x="1501.8" y="42.49" width="13.8" height="13.8" fill="none" stroke="#FF0000" stroke-width="3.0"/>
<rect x="1505.1" y="25.39" width="13.8" height="13.8" fill="none" stroke="#FF0000" stroke-width="3.0"/>
<rect x="1211.4" y="59.3" width="18.2" height="16.2" fill="none" stroke="#FF0000" stroke-width="4.5"/>
<line x1="1204" y1="113.7" x2="1239.9" y2="113.7" stroke="#548235" stroke-width="4.4"/>
<rect x="110.3" y="684" width="527.2" height="443.8" fill="none" stroke="#000" stroke-width="2.3"/>
<line x1="373.9" y1="684" x2="373.9" y2="1127.8" stroke="#000" stroke-width="2.0"/>
<line x1="136.66" y1="1127.8" x2="136.66" y2="1120.8" stroke="#000" stroke-width="2.0"/>
<line x1="163.02" y1="1127.8" x2="163.02" y2="1120.8" stroke="#000" stroke-width="2.0"/>
<line x1="189.38" y1="1127.8" x2="189.38" y2="1120.8" stroke="#000" stroke-width="2.0"/>
<line x1="215.74" y1="1127.8" x2="215.74" y2="1120.8" stroke="#000" stroke-width="2.0"/>
<line x1="242.1" y1="1127.8" x2="242.1" y2="1117.8" stroke="#000" stroke-width="2.0"/>
<line x1="268.46" y1="1127.8" x2="268.46" y2="1120.8" stroke="#000" stroke-width="2.0"/>
<line x1="294.82" y1="1127.8" x2="294.82" y2="1120.8" stroke="#000" stroke-width="2.0"/>
<line x1="321.18" y1="1127.8" x2="321.18" y2="1120.8" stroke="#000" stroke-width="2.0"/>
<line x1="347.54" y1="1127.8" x2="347.54" y2="1120.8" stroke="#000" stroke-width="2.0"/>
<line x1="400.26" y1="1127.8" x2="400.26" y2="1120.8" stroke="#000" stroke-width="2.0"/>
<line x1="426.62" y1="1127.8" x2="426.62" y2="1120.8" stroke="#000" stroke-width="2.0"/>
<line x1="452.98" y1="1127.8" x2="452.98" y2="1120.8" stroke="#000" stroke-width="2.0"/>
<line x1="479.34" y1="1127.8" x2="479.34" y2="1120.8" stroke="#000" stroke-width="2.0"/>
<line x1="505.7" y1="1127.8" x2="505.7" y2="1117.8" stroke="#000" stroke-width="2.0"/>
<line x1="532.06" y1="1127.8" x2="532.06" y2="1120.8" stroke="#000" stroke-width="2.0"/>
<line x1="558.42" y1="1127.8" x2="558.42" y2="1120.8" stroke="#000" stroke-width="2.0"/>
<line x1="584.78" y1="1127.8" x2="584.78" y2="1120.8" stroke="#000" stroke-width="2.0"/>
<line x1="611.14" y1="1127.8" x2="611.14" y2="1120.8" stroke="#000" stroke-width="2.0"/>
<line x1="373.9" y1="1110.05" x2="380.9" y2="1110.05" stroke="#000" stroke-width="2.0"/>
<line x1="373.9" y1="1092.3" x2="380.9" y2="1092.3" stroke="#000" stroke-width="2.0"/>
<line x1="373.9" y1="1074.54" x2="380.9" y2="1074.54" stroke="#000" stroke-width="2.0"/>
<line x1="373.9" y1="1056.79" x2="380.9" y2="1056.79" stroke="#000" stroke-width="2.0"/>
<line x1="373.9" y1="1039.04" x2="383.9" y2="1039.04" stroke="#000" stroke-width="2.0"/>
<line x1="373.9" y1="1021.29" x2="380.9" y2="1021.29" stroke="#000" stroke-width="2.0"/>
<line x1="373.9" y1="1003.54" x2="380.9" y2="1003.54" stroke="#000" stroke-width="2.0"/>
<line x1="373.9" y1="985.78" x2="380.9" y2="985.78" stroke="#000" stroke-width="2.0"/>
<line x1="373.9" y1="968.03" x2="380.9" y2="968.03" stroke="#000" stroke-width="2.0"/>
<line x1="373.9" y1="950.28" x2="383.9" y2="950.28" stroke="#000" stroke-width="2.0"/>
<line x1="373.9" y1="932.53" x2="380.9" y2="932.53" stroke="#000" stroke-width="2.0"/>
<line x1="373.9" y1="914.78" x2="380.9" y2="914.78" stroke="#000" stroke-width="2.0"/>
<line x1="373.9" y1="897.02" x2="380.9" y2="897.02" stroke="#000" stroke-width="2.0"/>
<line x1="373.9" y1="879.27" x2="380.9" y2="879.27" stroke="#000" stroke-width="2.0"/>
<line x1="373.9" y1="861.52" x2="383.9" y2="861.52" stroke="#000" stroke-width="2.0"/>
<line x1="373.9" y1="843.77" x2="380.9" y2="843.77" stroke="#000" stroke-width="2.0"/>
<line x1="373.9" y1="826.02" x2="380.9" y2="826.02" stroke="#000" stroke-width="2.0"/>
<line x1="373.9" y1="808.26" x2="380.9" y2="808.26" stroke="#000" stroke-width="2.0"/>
<line x1="373.9" y1="790.51" x2="380.9" y2="790.51" stroke="#000" stroke-width="2.0"/>
<line x1="373.9" y1="772.76" x2="383.9" y2="772.76" stroke="#000" stroke-width="2.0"/>
<line x1="373.9" y1="755.01" x2="380.9" y2="755.01" stroke="#000" stroke-width="2.0"/>
<line x1="373.9" y1="737.26" x2="380.9" y2="737.26" stroke="#000" stroke-width="2.0"/>
<line x1="373.9" y1="719.5" x2="380.9" y2="719.5" stroke="#000" stroke-width="2.0"/>
<line x1="373.9" y1="701.75" x2="380.9" y2="701.75" stroke="#000" stroke-width="2.0"/>
<line x1="373.9" y1="684" x2="383.9" y2="684" stroke="#000" stroke-width="2.0"/>
<circle cx="175.6" cy="1059.9" r="6.9" fill="none" stroke="#FF0000" stroke-width="2.95"/>
<circle cx="188.9" cy="1056.9" r="6.9" fill="none" stroke="#FF0000" stroke-width="2.95"/>
<circle cx="202.2" cy="1049.8" r="6.9" fill="none" stroke="#FF0000" stroke-width="2.95"/>
<circle cx="215.8" cy="1041.8" r="6.9" fill="none" stroke="#FF0000" stroke-width="2.95"/>
<circle cx="229.1" cy="1036" r="6.9" fill="none" stroke="#FF0000" stroke-width="2.95"/>
<circle cx="242.4" cy="1026.5" r="6.9" fill="none" stroke="#FF0000" stroke-width="2.95"/>
<circle cx="255.4" cy="1019.7" r="6.9" fill="none" stroke="#FF0000" stroke-width="2.95"/>
<circle cx="267.5" cy="1011.4" r="6.9" fill="none" stroke="#FF0000" stroke-width="2.95"/>
<circle cx="280.5" cy="998.9" r="6.9" fill="none" stroke="#FF0000" stroke-width="2.95"/>
<circle cx="292.6" cy="991.6" r="6.9" fill="none" stroke="#FF0000" stroke-width="2.95"/>
<circle cx="306.9" cy="978.3" r="6.9" fill="none" stroke="#FF0000" stroke-width="2.95"/>
<circle cx="320.2" cy="971.3" r="6.9" fill="none" stroke="#FF0000" stroke-width="2.95"/>
<circle cx="333.7" cy="953.2" r="6.9" fill="none" stroke="#FF0000" stroke-width="2.95"/>
<circle cx="347" cy="933.6" r="6.9" fill="none" stroke="#FF0000" stroke-width="2.95"/>
<circle cx="360.1" cy="907.5" r="6.9" fill="none" stroke="#FF0000" stroke-width="2.95"/>
<circle cx="373.6" cy="876.1" r="6.9" fill="none" stroke="#FF0000" stroke-width="2.95"/>
<circle cx="386.8" cy="841.5" r="6.9" fill="none" stroke="#FF0000" stroke-width="2.95"/>
<circle cx="400.1" cy="816.4" r="6.9" fill="none" stroke="#FF0000" stroke-width="2.95"/>
<circle cx="413.4" cy="810.1" r="6.9" fill="none" stroke="#FF0000" stroke-width="2.95"/>
<circle cx="426.7" cy="839.2" r="6.9" fill="none" stroke="#FF0000" stroke-width="2.95"/>
<circle cx="439.8" cy="881.7" r="6.9" fill="none" stroke="#FF0000" stroke-width="2.95"/>
<circle cx="453.1" cy="921.8" r="6.9" fill="none" stroke="#FF0000" stroke-width="2.95"/>
<circle cx="466.4" cy="961.5" r="6.9" fill="none" stroke="#FF0000" stroke-width="2.95"/>
<circle cx="478.4" cy="987.1" r="6.9" fill="none" stroke="#FF0000" stroke-width="2.95"/>
<circle cx="491.7" cy="1008.4" r="6.9" fill="none" stroke="#FF0000" stroke-width="2.95"/>
<circle cx="503.5" cy="1027.2" r="6.9" fill="none" stroke="#FF0000" stroke-width="2.95"/>
<circle cx="516.8" cy="1040.3" r="6.9" fill="none" stroke="#FF0000" stroke-width="2.95"/>
<circle cx="529.9" cy="1053.1" r="6.9" fill="none" stroke="#FF0000" stroke-width="2.95"/>
<circle cx="543.2" cy="1061.9" r="6.9" fill="none" stroke="#FF0000" stroke-width="2.95"/>
<circle cx="557" cy="1071.2" r="6.9" fill="none" stroke="#FF0000" stroke-width="2.95"/>
<rect x="816.2" y="687.9" width="518.1" height="447.6" fill="none" stroke="#000" stroke-width="2.3"/>
<line x1="1075.25" y1="687.9" x2="1075.25" y2="1135.5" stroke="#000" stroke-width="2.0"/>
<line x1="842.11" y1="1135.5" x2="842.11" y2="1128.5" stroke="#000" stroke-width="2.0"/>
<line x1="868.01" y1="1135.5" x2="868.01" y2="1128.5" stroke="#000" stroke-width="2.0"/>
<line x1="893.92" y1="1135.5" x2="893.92" y2="1128.5" stroke="#000" stroke-width="2.0"/>
<line x1="919.82" y1="1135.5" x2="919.82" y2="1128.5" stroke="#000" stroke-width="2.0"/>
<line x1="945.73" y1="1135.5" x2="945.73" y2="1125.5" stroke="#000" stroke-width="2.0"/>
<line x1="971.63" y1="1135.5" x2="971.63" y2="1128.5" stroke="#000" stroke-width="2.0"/>
<line x1="997.54" y1="1135.5" x2="997.54" y2="1128.5" stroke="#000" stroke-width="2.0"/>
<line x1="1023.44" y1="1135.5" x2="1023.44" y2="1128.5" stroke="#000" stroke-width="2.0"/>
<line x1="1049.35" y1="1135.5" x2="1049.35" y2="1128.5" stroke="#000" stroke-width="2.0"/>
<line x1="1101.15" y1="1135.5" x2="1101.15" y2="1128.5" stroke="#000" stroke-width="2.0"/>
<line x1="1127.06" y1="1135.5" x2="1127.06" y2="1128.5" stroke="#000" stroke-width="2.0"/>
<line x1="1152.96" y1="1135.5" x2="1152.96" y2="1128.5" stroke="#000" stroke-width="2.0"/>
<line x1="1178.87" y1="1135.5" x2="1178.87" y2="1128.5" stroke="#000" stroke-width="2.0"/>
<line x1="1204.78" y1="1135.5" x2="1204.78" y2="1125.5" stroke="#000" stroke-width="2.0"/>
<line x1="1230.68" y1="1135.5" x2="1230.68" y2="1128.5" stroke="#000" stroke-width="2.0"/>
<line x1="1256.59" y1="1135.5" x2="1256.59" y2="1128.5" stroke="#000" stroke-width="2.0"/>
<line x1="1282.49" y1="1135.5" x2="1282.49" y2="1128.5" stroke="#000" stroke-width="2.0"/>
<line x1="1308.39" y1="1135.5" x2="1308.39" y2="1128.5" stroke="#000" stroke-width="2.0"/>
<line x1="1075.25" y1="1109.92" x2="1082.25" y2="1109.92" stroke="#000" stroke-width="2.0"/>
<line x1="1075.25" y1="1084.35" x2="1082.25" y2="1084.35" stroke="#000" stroke-width="2.0"/>
<line x1="1075.25" y1="1058.77" x2="1082.25" y2="1058.77" stroke="#000" stroke-width="2.0"/>
<line x1="1075.25" y1="1033.19" x2="1082.25" y2="1033.19" stroke="#000" stroke-width="2.0"/>
<line x1="1075.25" y1="1007.61" x2="1085.25" y2="1007.61" stroke="#000" stroke-width="2.0"/>
<line x1="1075.25" y1="982.04" x2="1082.25" y2="982.04" stroke="#000" stroke-width="2.0"/>
<line x1="1075.25" y1="956.46" x2="1082.25" y2="956.46" stroke="#000" stroke-width="2.0"/>
<line x1="1075.25" y1="930.88" x2="1082.25" y2="930.88" stroke="#000" stroke-width="2.0"/>
<line x1="1075.25" y1="905.31" x2="1082.25" y2="905.31" stroke="#000" stroke-width="2.0"/>
<line x1="1075.25" y1="879.73" x2="1085.25" y2="879.73" stroke="#000" stroke-width="2.0"/>
<line x1="1075.25" y1="854.15" x2="1082.25" y2="854.15" stroke="#000" stroke-width="2.0"/>
<line x1="1075.25" y1="828.57" x2="1082.25" y2="828.57" stroke="#000" stroke-width="2.0"/>
<line x1="1075.25" y1="803" x2="1082.25" y2="803" stroke="#000" stroke-width="2.0"/>
<line x1="1075.25" y1="777.42" x2="1082.25" y2="777.42" stroke="#000" stroke-width="2.0"/>
<line x1="1075.25" y1="751.84" x2="1085.25" y2="751.84" stroke="#000" stroke-width="2.0"/>
<line x1="1075.25" y1="726.27" x2="1082.25" y2="726.27" stroke="#000" stroke-width="2.0"/>
<line x1="1075.25" y1="700.69" x2="1082.25" y2="700.69" stroke="#000" stroke-width="2.0"/>
<circle cx="880.7" cy="943.3" r="6.9" fill="none" stroke="#FF0000" stroke-width="2.95"/>
<circle cx="894" cy="951.7" r="6.9" fill="none" stroke="#FF0000" stroke-width="2.95"/>
<circle cx="907" cy="939.1" r="6.9" fill="none" stroke="#FF0000" stroke-width="2.95"/>
<circle cx="919.9" cy="937.1" r="6.9" fill="none" stroke="#FF0000" stroke-width="2.95"/>
<circle cx="933.2" cy="926.6" r="6.9" fill="none" stroke="#FF0000" stroke-width="2.95"/>
<circle cx="945.9" cy="924.2" r="6.9" fill="none" stroke="#FF0000" stroke-width="2.95"/>
<circle cx="959.1" cy="932" r="6.9" fill="none" stroke="#FF0000" stroke-width="2.95"/>
<circle cx="971" cy="919.6" r="6.9" fill="none" stroke="#FF0000" stroke-width="2.95"/>
<circle cx="983.9" cy="908" r="6.9" fill="none" stroke="#FF0000" stroke-width="2.95"/>
<circle cx="995.8" cy="910.4" r="6.9" fill="none" stroke="#FF0000" stroke-width="2.95"/>
<circle cx="1009.8" cy="898.7" r="6.9" fill="none" stroke="#FF0000" stroke-width="2.95"/>
<circle cx="1022.8" cy="888.2" r="6.9" fill="none" stroke="#FF0000" stroke-width="2.95"/>
<circle cx="1035.8" cy="882.1" r="6.9" fill="none" stroke="#FF0000" stroke-width="2.95"/>
<circle cx="1049.1" cy="873.1" r="6.9" fill="none" stroke="#FF0000" stroke-width="2.95"/>
<circle cx="1061.7" cy="862.9" r="6.9" fill="none" stroke="#FF0000" stroke-width="2.95"/>
<circle cx="1075" cy="856.9" r="6.9" fill="none" stroke="#FF0000" stroke-width="2.95"/>
<circle cx="1088.3" cy="840.7" r="6.9" fill="none" stroke="#FF0000" stroke-width="2.95"/>
<circle cx="1101.3" cy="837.5" r="6.9" fill="none" stroke="#FF0000" stroke-width="2.95"/>
<circle cx="1114.3" cy="815.2" r="6.9" fill="none" stroke="#FF0000" stroke-width="2.95"/>
<circle cx="1127.2" cy="818.9" r="6.9" fill="none" stroke="#FF0000" stroke-width="2.95"/>
<circle cx="1140.2" cy="805.9" r="6.9" fill="none" stroke="#FF0000" stroke-width="2.95"/>
<circle cx="1153.6" cy="803" r="6.9" fill="none" stroke="#FF0000" stroke-width="2.95"/>
<circle cx="1166.1" cy="805.1" r="6.9" fill="none" stroke="#FF0000" stroke-width="2.95"/>
<circle cx="1178.3" cy="805.9" r="6.9" fill="none" stroke="#FF0000" stroke-width="2.95"/>
<circle cx="1190.9" cy="812.4" r="6.9" fill="none" stroke="#FF0000" stroke-width="2.95"/>
<circle cx="1202.9" cy="812.4" r="6.9" fill="none" stroke="#FF0000" stroke-width="2.95"/>
<circle cx="1216.3" cy="815.2" r="6.9" fill="none" stroke="#FF0000" stroke-width="2.95"/>
<circle cx="1229" cy="837.5" r="6.9" fill="none" stroke="#FF0000" stroke-width="2.95"/>
<circle cx="1242.2" cy="844" r="6.9" fill="none" stroke="#FF0000" stroke-width="2.95"/>
<circle cx="1255.2" cy="864.6" r="6.9" fill="none" stroke="#FF0000" stroke-width="2.95"/>
<rect x="1534.9" y="689" width="515.9" height="456.5" fill="none" stroke="#000" stroke-width="2.3"/>
<line x1="1792.85" y1="689" x2="1792.85" y2="1145.5" stroke="#000" stroke-width="2.0"/>
<line x1="1560.7" y1="1145.5" x2="1560.7" y2="1138.5" stroke="#000" stroke-width="2.0"/>
<line x1="1586.49" y1="1145.5" x2="1586.49" y2="1138.5" stroke="#000" stroke-width="2.0"/>
<line x1="1612.29" y1="1145.5" x2="1612.29" y2="1138.5" stroke="#000" stroke-width="2.0"/>
<line x1="1638.08" y1="1145.5" x2="1638.08" y2="1138.5" stroke="#000" stroke-width="2.0"/>
<line x1="1663.88" y1="1145.5" x2="1663.88" y2="1135.5" stroke="#000" stroke-width="2.0"/>
<line x1="1689.67" y1="1145.5" x2="1689.67" y2="1138.5" stroke="#000" stroke-width="2.0"/>
<line x1="1715.47" y1="1145.5" x2="1715.47" y2="1138.5" stroke="#000" stroke-width="2.0"/>
<line x1="1741.26" y1="1145.5" x2="1741.26" y2="1138.5" stroke="#000" stroke-width="2.0"/>
<line x1="1767.06" y1="1145.5" x2="1767.06" y2="1138.5" stroke="#000" stroke-width="2.0"/>
<line x1="1818.65" y1="1145.5" x2="1818.65" y2="1138.5" stroke="#000" stroke-width="2.0"/>
<line x1="1844.44" y1="1145.5" x2="1844.44" y2="1138.5" stroke="#000" stroke-width="2.0"/>
<line x1="1870.24" y1="1145.5" x2="1870.24" y2="1138.5" stroke="#000" stroke-width="2.0"/>
<line x1="1896.03" y1="1145.5" x2="1896.03" y2="1138.5" stroke="#000" stroke-width="2.0"/>
<line x1="1921.83" y1="1145.5" x2="1921.83" y2="1135.5" stroke="#000" stroke-width="2.0"/>
<line x1="1947.62" y1="1145.5" x2="1947.62" y2="1138.5" stroke="#000" stroke-width="2.0"/>
<line x1="1973.42" y1="1145.5" x2="1973.42" y2="1138.5" stroke="#000" stroke-width="2.0"/>
<line x1="1999.21" y1="1145.5" x2="1999.21" y2="1138.5" stroke="#000" stroke-width="2.0"/>
<line x1="2025.01" y1="1145.5" x2="2025.01" y2="1138.5" stroke="#000" stroke-width="2.0"/>
<line x1="1792.85" y1="1115.07" x2="1799.85" y2="1115.07" stroke="#000" stroke-width="2.0"/>
<line x1="1792.85" y1="1084.63" x2="1799.85" y2="1084.63" stroke="#000" stroke-width="2.0"/>
<line x1="1792.85" y1="1054.2" x2="1799.85" y2="1054.2" stroke="#000" stroke-width="2.0"/>
<line x1="1792.85" y1="1023.77" x2="1799.85" y2="1023.77" stroke="#000" stroke-width="2.0"/>
<line x1="1792.85" y1="993.33" x2="1802.85" y2="993.33" stroke="#000" stroke-width="2.0"/>
<line x1="1792.85" y1="962.9" x2="1799.85" y2="962.9" stroke="#000" stroke-width="2.0"/>
<line x1="1792.85" y1="932.47" x2="1799.85" y2="932.47" stroke="#000" stroke-width="2.0"/>
<line x1="1792.85" y1="902.03" x2="1799.85" y2="902.03" stroke="#000" stroke-width="2.0"/>
<line x1="1792.85" y1="871.6" x2="1799.85" y2="871.6" stroke="#000" stroke-width="2.0"/>
<line x1="1792.85" y1="841.17" x2="1802.85" y2="841.17" stroke="#000" stroke-width="2.0"/>
<line x1="1792.85" y1="810.73" x2="1799.85" y2="810.73" stroke="#000" stroke-width="2.0"/>
<line x1="1792.85" y1="780.3" x2="1799.85" y2="780.3" stroke="#000" stroke-width="2.0"/>
<line x1="1792.85" y1="749.87" x2="1799.85" y2="749.87" stroke="#000" stroke-width="2.0"/>
<line x1="1792.85" y1="719.43" x2="1799.85" y2="719.43" stroke="#000" stroke-width="2.0"/>
<circle cx="1599.1" cy="917.1" r="6.9" fill="none" stroke="#FF0000" stroke-width="2.95"/>
<circle cx="1611.9" cy="934.4" r="6.9" fill="none" stroke="#FF0000" stroke-width="2.95"/>
<circle cx="1625.2" cy="917.1" r="6.9" fill="none" stroke="#FF0000" stroke-width="2.95"/>
<circle cx="1637.9" cy="934.4" r="6.9" fill="none" stroke="#FF0000" stroke-width="2.95"/>
<circle cx="1651" cy="919.2" r="6.9" fill="none" stroke="#FF0000" stroke-width="2.95"/>
<circle cx="1664" cy="919.2" r="6.9" fill="none" stroke="#FF0000" stroke-width="2.95"/>
<circle cx="1676.9" cy="925.6" r="6.9" fill="none" stroke="#FF0000" stroke-width="2.95"/>
<circle cx="1688.6" cy="917.1" r="6.9" fill="none" stroke="#FF0000" stroke-width="2.95"/>
<circle cx="1701.7" cy="911" r="6.9" fill="none" stroke="#FF0000" stroke-width="2.95"/>
<circle cx="1713.4" cy="912.1" r="6.9" fill="none" stroke="#FF0000" stroke-width="2.95"/>
<circle cx="1727.7" cy="902" r="6.9" fill="none" stroke="#FF0000" stroke-width="2.95"/>
<circle cx="1740.7" cy="904.1" r="6.9" fill="none" stroke="#FF0000" stroke-width="2.95"/>
<circle cx="1753.8" cy="904.1" r="6.9" fill="none" stroke="#FF0000" stroke-width="2.95"/>
<circle cx="1766.5" cy="902" r="6.9" fill="none" stroke="#FF0000" stroke-width="2.95"/>
<circle cx="1779.5" cy="904.1" r="6.9" fill="none" stroke="#FF0000" stroke-width="2.95"/>
<circle cx="1792.7" cy="905" r="6.9" fill="none" stroke="#FF0000" stroke-width="2.95"/>
<circle cx="1805.8" cy="886.4" r="6.9" fill="none" stroke="#FF0000" stroke-width="2.95"/>
<circle cx="1818.8" cy="889.1" r="6.9" fill="none" stroke="#FF0000" stroke-width="2.95"/>
<circle cx="1831.5" cy="886.4" r="6.9" fill="none" stroke="#FF0000" stroke-width="2.95"/>
<circle cx="1844.8" cy="889.1" r="6.9" fill="none" stroke="#FF0000" stroke-width="2.95"/>
<circle cx="1857.6" cy="904.3" r="6.9" fill="none" stroke="#FF0000" stroke-width="2.95"/>
<circle cx="1870.7" cy="871.4" r="6.9" fill="none" stroke="#FF0000" stroke-width="2.95"/>
<circle cx="1883.6" cy="894.4" r="6.9" fill="none" stroke="#FF0000" stroke-width="2.95"/>
<circle cx="1895.6" cy="889.1" r="6.9" fill="none" stroke="#FF0000" stroke-width="2.95"/>
<circle cx="1908.3" cy="877.7" r="6.9" fill="none" stroke="#FF0000" stroke-width="2.95"/>
<circle cx="1920" cy="889.1" r="6.9" fill="none" stroke="#FF0000" stroke-width="2.95"/>
<circle cx="1933" cy="871.4" r="6.9" fill="none" stroke="#FF0000" stroke-width="2.95"/>
<circle cx="1946" cy="889.1" r="6.9" fill="none" stroke="#FF0000" stroke-width="2.95"/>
<circle cx="1959.1" cy="891.5" r="6.9" fill="none" stroke="#FF0000" stroke-width="2.95"/>
<circle cx="1972.2" cy="882.5" r="6.9" fill="none" stroke="#FF0000" stroke-width="2.95"/>
<circle cx="1986.5" cy="876.7" r="6.9" fill="none" stroke="#FF0000" stroke-width="2.95"/>
<text transform="translate(403.13,62.26) scale(0.3895)" font-size="100" fill="#FF0000">exp</text>
<text transform="translate(401.75,114.01) scale(0.3828)" font-size="100" fill="#5B9BD5">sim</text>
<text transform="translate(536.42,70.76) scale(0.3972)" font-size="100" fill="#000000">750°C</text>
<text transform="translate(752.42,68.55) scale(0.3968)" font-size="100" fill="#000000">700°C</text>
<text transform="translate(696.92,155.4) scale(0.3921)" font-size="100" fill="#000000">650°C</text>
<text transform="translate(361.22,245.67) scale(0.4418)" font-size="100" fill="#000000">LSCF</text>
<text transform="translate(359.84,327.99) scale(0.3917)" font-size="100" fill="#000000">SOFC</text>
<text transform="translate(771.43,259.01) scale(0.3938)" font-size="100" fill="#000000">SOEC</text>
<text transform="translate(777.01,401.06) scale(0.4981)" font-size="100" fill="#000000">(a)</text>
<text transform="translate(375.04,621.01) scale(0.3298)" font-size="100" fill="#000000">Electrode Overpotential – η / (V/air)</text>
<text transform="translate(221.3,477.84) rotate(-90) scale(0.3285)" font-size="100" fill="#000000">Current Density - i / A cm-²</text>
<text transform="translate(1251.33,70.8) scale(0.3888)" font-size="100" fill="#FF0000">exp</text>
<text transform="translate(1249.66,120.84) scale(0.3807)" font-size="100" fill="#548235">sim</text>
<text transform="translate(1388.42,79.26) scale(0.3972)" font-size="100" fill="#000000">750°C</text>
<text transform="translate(1624.32,77.38) scale(0.3964)" font-size="100" fill="#000000">700°C</text>
<text transform="translate(1586.62,160.18) scale(0.3933)" font-size="100" fill="#000000">650°C</text>
<text transform="translate(1203.12,244.39) scale(0.4394)" font-size="100" fill="#000000">LSCF-CGO</text>
<text transform="translate(1204.84,333.4) scale(0.3921)" font-size="100" fill="#000000">SOFC</text>
<text transform="translate(1630.54,254.56) scale(0.3923)" font-size="100" fill="#000000">SOEC</text>
<text transform="translate(1622.9,408.3) scale(0.5000)" font-size="100" fill="#000000">(b)</text>
<text transform="translate(1219.74,616.5) scale(0.3292)" font-size="100" fill="#000000">Electrode Overpotential – η / (V/air)</text>
<text transform="translate(1073.4,466.34) rotate(-90) scale(0.3278)" font-size="100" fill="#000000">Current Density  - i / A cm-²</text>
<text transform="translate(159.32,751.83) scale(0.3933)" font-size="100" fill="#000000">650°C</text>
<text transform="translate(423.77,751.87) scale(0.3857)" font-size="100" fill="#000000">SOEC mode</text>
<text transform="translate(165.72,839.25) scale(0.4414)" font-size="100" fill="#000000">LSCF</text>
<text transform="translate(156.77,1097.21) scale(0.3855)" font-size="100" fill="#000000">SOFC mode</text>
<text transform="translate(526.57,998.01) scale(0.5068)" font-size="100" fill="#000000">(c)</text>
<text transform="translate(179.06,1218.55) scale(0.3290)" font-size="100" fill="#000000">Current density - i / A cm²</text>
<text transform="translate(25,1153.76) rotate(-90) scale(0.3278)" font-size="100" fill="#000000">Electrode resistance - R<tspan font-size="66" dy="23.5">pol</tspan><tspan dy="-23.5" dx="-7.5"> / Ω cm<tspan font-size="64" dy="-29">-2</tspan></tspan></text>
<text transform="translate(832.61,752.22) scale(0.3976)" font-size="100" fill="#000000">700°C</text>
<text transform="translate(1096.37,752.13) scale(0.3860)" font-size="100" fill="#000000">SOEC mode</text>
<text transform="translate(848.07,1097.05) scale(0.3851)" font-size="100" fill="#000000">SOFC mode</text>
<text transform="translate(1205.18,1011.28) scale(0.5053)" font-size="100" fill="#000000">(d)</text>
<text transform="translate(891.36,1217.73) scale(0.3282)" font-size="100" fill="#000000">Current density - i  / A cm²</text>
<text transform="translate(717.8,1168.06) rotate(-90) scale(0.3291)" font-size="100" fill="#000000">Electrode resistance - R<tspan font-size="66" dy="23.5">pol</tspan><tspan dy="-23.5" dx="-7.5"> / Ω cm<tspan font-size="64" dy="-29">-2</tspan></tspan></text>
<text transform="translate(1550.91,751.97) scale(0.3976)" font-size="100" fill="#000000">750°C</text>
<text transform="translate(1813.47,752.11) scale(0.3855)" font-size="100" fill="#000000">SOEC mode</text>
<text transform="translate(1560.97,1097.56) scale(0.3855)" font-size="100" fill="#000000">SOFC mode</text>
<text transform="translate(1905.05,1011.53) scale(0.5117)" font-size="100" fill="#000000">(e)</text>
<text transform="translate(1606.55,1228.15) scale(0.3291)" font-size="100" fill="#000000">Current density - i / A/cm²</text>
<text transform="translate(1442.9,1177.56) rotate(-90) scale(0.3281)" font-size="100" fill="#000000">Electrode resistance – R<tspan font-size="66" dy="23.5">pol</tspan><tspan dy="-23.5" dx="-14.5">  / Ω cm<tspan font-size="64" dy="-29">-2</tspan></tspan></text>
<text transform="translate(248.02,21.82) scale(0.3350)" font-size="100" fill="#000000">0.15</text>
<text transform="translate(265.1,108.94) scale(0.3350)" font-size="100" fill="#000000">0.1</text>
<text transform="translate(248.02,195.89) scale(0.3350)" font-size="100" fill="#000000">0.05</text>
<text transform="translate(289.89,283) scale(0.3350)" font-size="100" fill="#000000">0</text>
<text transform="translate(236.62,370.12) scale(0.3350)" font-size="100" fill="#000000">-0.05</text>
<text transform="translate(254.05,457.4) scale(0.3350)" font-size="100" fill="#000000">-0.1</text>
<text transform="translate(236.62,544.52) scale(0.3350)" font-size="100" fill="#000000">-0.15</text>
<text transform="translate(298.99,582.92) scale(0.3350)" font-size="100" fill="#000000">-0.15</text>
<text transform="translate(483.53,582.75) scale(0.3350)" font-size="100" fill="#000000">-0.05</text>
<text transform="translate(673.75,582.75) scale(0.3350)" font-size="100" fill="#000000">0.05</text>
<text transform="translate(858.29,582.92) scale(0.3350)" font-size="100" fill="#000000">0.15</text>
<text transform="translate(1099.61,23.32) scale(0.3350)" font-size="100" fill="#000000">0.15</text>
<text transform="translate(1116.7,109.29) scale(0.3350)" font-size="100" fill="#000000">0.1</text>
<text transform="translate(1099.61,195.09) scale(0.3350)" font-size="100" fill="#000000">0.05</text>
<text transform="translate(1141.49,281.05) scale(0.3350)" font-size="100" fill="#000000">0</text>
<text transform="translate(1088.22,367.02) scale(0.3350)" font-size="100" fill="#000000">-0.05</text>
<text transform="translate(1105.64,453.15) scale(0.3350)" font-size="100" fill="#000000">-0.1</text>
<text transform="translate(1088.22,539.12) scale(0.3350)" font-size="100" fill="#000000">-0.15</text>
<text transform="translate(1150.59,577.52) scale(0.3350)" font-size="100" fill="#000000">-0.15</text>
<text transform="translate(1335.73,577.35) scale(0.3350)" font-size="100" fill="#000000">-0.05</text>
<text transform="translate(1526.55,577.35) scale(0.3350)" font-size="100" fill="#000000">0.05</text>
<text transform="translate(1711.69,577.52) scale(0.3350)" font-size="100" fill="#000000">0.15</text>
<text transform="translate(65.89,1137.45) scale(0.3350)" font-size="100" fill="#000000">0</text>
<text transform="translate(40.76,1048.69) scale(0.3350)" font-size="100" fill="#000000">0.5</text>
<text transform="translate(66.22,960.43) scale(0.3350)" font-size="100" fill="#000000">1</text>
<text transform="translate(40.76,871.51) scale(0.3350)" font-size="100" fill="#000000">1.5</text>
<text transform="translate(65.89,782.58) scale(0.3350)" font-size="100" fill="#000000">2</text>
<text transform="translate(40.76,693.82) scale(0.3350)" font-size="100" fill="#000000">2.5</text>
<text transform="translate(83.84,1176.85) scale(0.3350)" font-size="100" fill="#000000">-0.2</text>
<text transform="translate(215.8,1177.02) scale(0.3350)" font-size="100" fill="#000000">-0.1</text>
<text transform="translate(365.53,1176.85) scale(0.3350)" font-size="100" fill="#000000">0</text>
<text transform="translate(484.93,1177.02) scale(0.3350)" font-size="100" fill="#000000">0.1</text>
<text transform="translate(616.56,1176.85) scale(0.3350)" font-size="100" fill="#000000">0.2</text>
<text transform="translate(771.79,1145.15) scale(0.3350)" font-size="100" fill="#000000">0</text>
<text transform="translate(746.67,1017.27) scale(0.3350)" font-size="100" fill="#000000">0.2</text>
<text transform="translate(746,889.38) scale(0.3350)" font-size="100" fill="#000000">0.4</text>
<text transform="translate(746.33,761.5) scale(0.3350)" font-size="100" fill="#000000">0.6</text>
<text transform="translate(789.74,1184.55) scale(0.3350)" font-size="100" fill="#000000">-0.2</text>
<text transform="translate(919.43,1184.72) scale(0.3350)" font-size="100" fill="#000000">-0.1</text>
<text transform="translate(1066.88,1184.55) scale(0.3350)" font-size="100" fill="#000000">0</text>
<text transform="translate(1184.01,1184.72) scale(0.3350)" font-size="100" fill="#000000">0.1</text>
<text transform="translate(1313.36,1184.55) scale(0.3350)" font-size="100" fill="#000000">0.2</text>
<text transform="translate(1490.49,1155.15) scale(0.3350)" font-size="100" fill="#000000">0</text>
<text transform="translate(1465.7,1003.15) scale(0.3350)" font-size="100" fill="#000000">0.1</text>
<text transform="translate(1465.37,850.82) scale(0.3350)" font-size="100" fill="#000000">0.2</text>
<text transform="translate(1465.03,698.65) scale(0.3350)" font-size="100" fill="#000000">0.3</text>
<text transform="translate(1508.44,1194.55) scale(0.3350)" font-size="100" fill="#000000">-0.2</text>
<text transform="translate(1637.58,1194.72) scale(0.3350)" font-size="100" fill="#000000">-0.1</text>
<text transform="translate(1784.48,1194.55) scale(0.3350)" font-size="100" fill="#000000">0</text>
<text transform="translate(1901.06,1194.72) scale(0.3350)" font-size="100" fill="#000000">0.1</text>
<text transform="translate(2029.86,1194.55) scale(0.3350)" font-size="100" fill="#000000">0.2</text>
</svg>
</body></html>
